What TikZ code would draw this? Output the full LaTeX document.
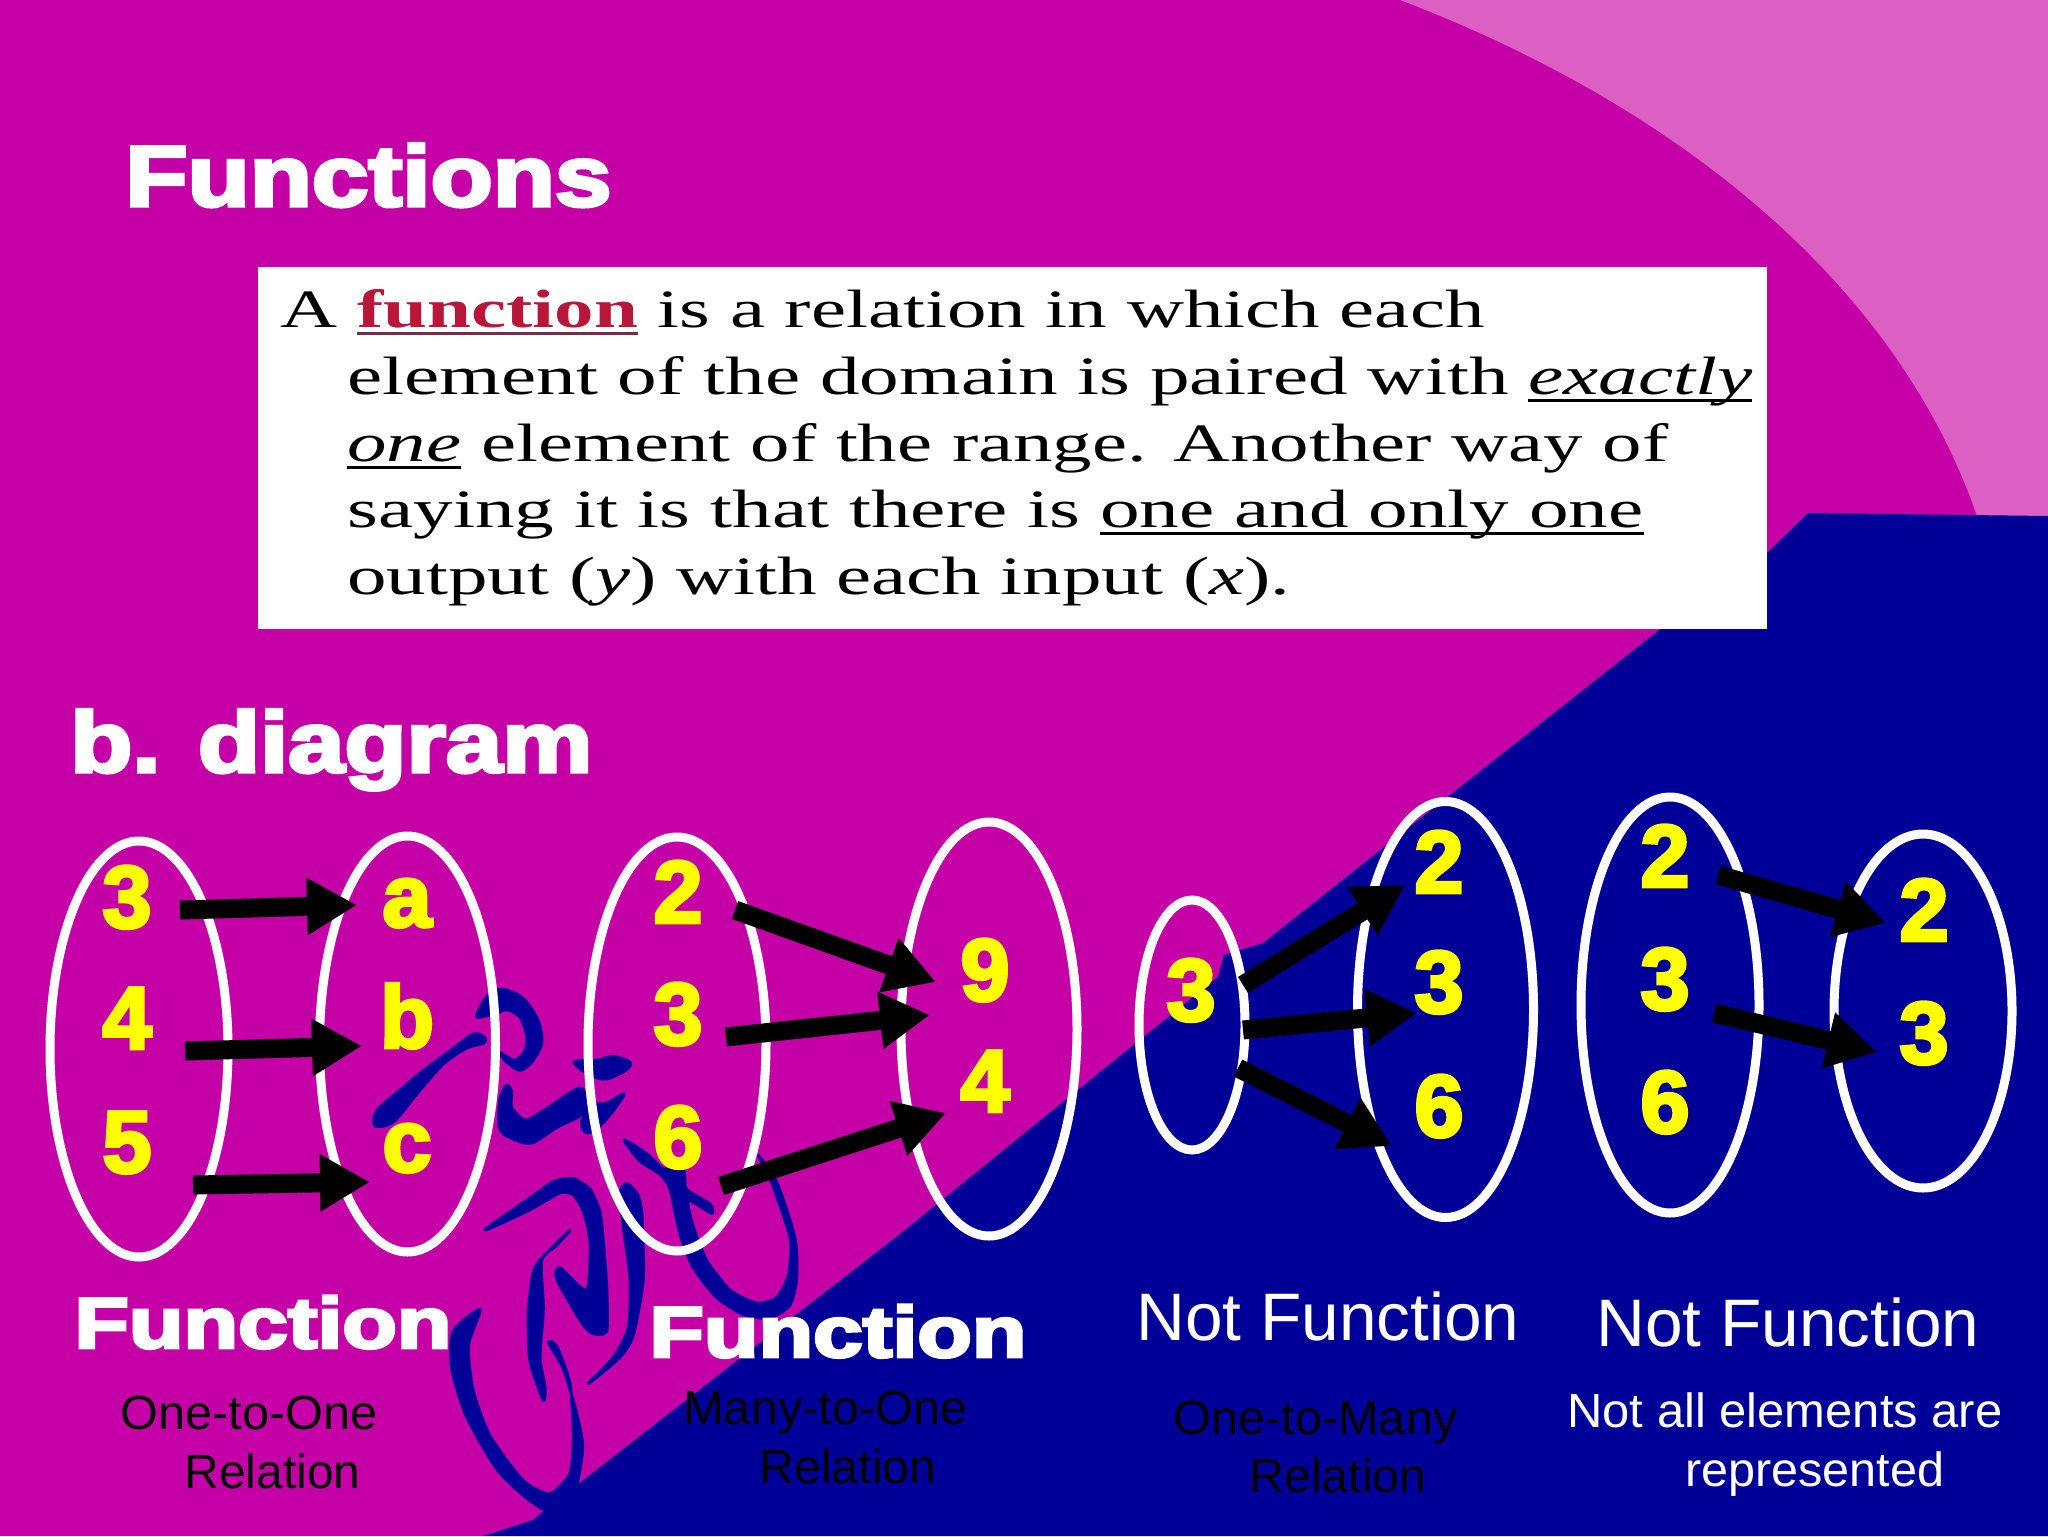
\documentclass[tikz,border=0pt]{standalone}
\usepackage{fontspec}
\usepackage{graphicx}
\usetikzlibrary{arrows.meta}
\setmainfont{Liberation Sans}
\newfontfamily\serifbox{Liberation Serif}
\newfontfamily\heavy[FakeBold=4]{Liberation Sans Bold}
\definecolor{bgmag}{HTML}{C400A6}
\definecolor{bgpale}{HTML}{DC5FC4}
\definecolor{bgblue}{HTML}{000098}
\definecolor{fnred}{HTML}{B8173A}
\definecolor{fnline}{HTML}{7A2A4A}
\definecolor{ylw}{HTML}{FFFF00}
\newcommand{\ulx}[2][black]{\setbox0\hbox{#2}\rlap{\textcolor{#1}{\rule[-4pt]{\wd0}{1.5pt}}}\box0\relax}
\newcommand{\fitw}[2]{\resizebox{#1pt}{\height}{#2}}
\tikzset{
  oval/.style={draw=white,line width=4.5pt},
  ltr/.style={text=ylw,font=\heavy\fontsize{44}{44}\selectfont,inner sep=0pt,text height=27.5pt,text depth=0pt},
  blk/.style={black,line width=9.5pt,-{Triangle[length=25pt,width=27pt]}},
  title/.style={text=white,font=\heavy\fontsize{43}{43}\selectfont,anchor=base west,inner sep=0pt},
  head/.style={text=white,font=\fontsize{33.6}{34}\selectfont,anchor=base west,inner sep=0pt},
  sub/.style={text=black,font=\fontsize{24}{24}\selectfont,anchor=base west,inner sep=0pt},
  def/.style={text=black,font=\serifbox\fontsize{27}{27}\selectfont,anchor=base west,inner sep=0pt},
  ink/.style={fill=bgblue,draw=bgblue,line width=1.5pt,line join=round}
}
\begin{document}
\begin{tikzpicture}[x=0.5pt,y=-0.5pt]
\useasboundingbox (0,0) rectangle (2048,1536);
\fill[bgmag] (0,0) rectangle (2048,1536);
\fill[bgpale] (1400,0) .. controls (1650,95) and (1890,265) .. (1977,516) -- (2048,516) -- (2048,0) -- cycle;
\fill[bgblue] (1808,513) -- (2048,516) -- (2048,1536) -- (483,1536) -- (533,1520) -- (545,1510) -- (573,1488) -- (900,1234) -- (1100,1072) -- (1218,977) -- (1224,955) -- (1263,943) -- (1469,780) -- (1658,631) -- (1765,555) -- cycle;
% calligraphic figure
\begin{scope}[shift={(400,950)},xscale=0.3333,yscale=0.3737]
\fill[ink] plot[smooth cycle,tension=0.5] coordinates {(230,178) (265,120) (310,105) (370,130) (415,190) (425,250) (395,300) (360,322) (320,300) (300,275) (345,295) (375,270) (380,230) (360,180) (320,160) (285,170)};
\fill[ink] plot[smooth cycle,tension=0.5] coordinates {(255,235) (220,225) (150,270) (60,330) (0,375) (-70,430) (-75,470) (-20,460) (60,375) (130,305) (200,262) (250,250)};
\fill[ink] plot[smooth cycle,tension=0.5] coordinates {(320,362) (335,380) (335,420) (375,455) (430,430) (540,370) (560,430) (470,475) (400,515) (350,510) (300,480) (300,400)};
\fill[ink] plot[smooth cycle,tension=0.5] coordinates {(522,300) (590,295) (640,285) (690,300) (680,320) (620,345) (570,335)};
\fill[ink] plot[smooth cycle,tension=0.5] coordinates {(672,385) (620,410) (580,415) (545,460) (560,490) (600,470) (640,430)};
\fill[ink] plot[smooth cycle,tension=0.4] coordinates {(255,748) (380,670) (460,620) (520,612) (570,640) (600,700) (610,780) (620,900) (620,1020) (575,1025) (540,990) (470,880) (480,850) (560,910) (570,780) (550,700) (520,655) (480,650) (400,690) (320,725)};
\fill[ink] plot[smooth cycle,tension=0.4] coordinates {(510,750) (430,820) (400,860) (385,970) (390,1100) (430,1205) (435,1170) (420,1090) (430,960) (425,830) (470,790)};
\fill[ink] plot[smooth cycle,tension=0.4] coordinates {(660,650) (680,625) (710,650) (725,700) (730,880) (700,1030) (660,1090) (565,1160) (640,1090) (685,1010) (690,880) (670,740)};
\fill[ink] plot[smooth cycle,tension=0.4] coordinates {(240,962) (160,1020) (155,1120) (200,1250) (300,1400) (435,1498) (525,1440) (548,1330) (530,1240) (490,1120) (445,1050) (470,1060) (510,1160) (520,1300) (510,1400) (450,1455) (370,1420) (270,1300) (220,1180) (205,1060)};
\fill[ink] plot[smooth cycle,tension=0.4] coordinates {(672,508) (740,545) (790,585) (850,590) (860,640) (930,680) (935,705) (865,670) (880,740) (920,830) (990,910) (1070,945) (1130,930) (1165,870) (1170,770) (1110,610) (1075,550) (1130,620) (1185,770) (1190,880) (1170,950) (1110,985) (1030,975) (950,930) (880,850) (840,760) (810,640) (780,600) (720,565)};
\end{scope}
% titles
\node[title] (ttl) at (125,206) {\fitw{243}{Functions}};
\node[title] (bdg) at (70,772) {\fitw{261}{b. diagram}};
% definition box
\fill[white] (258,267) rectangle (1767,629);
\node[def] (l1) at (280,327) {\fitw{602}{A \ulx[fnline]{\textcolor{fnred}{\bfseries function}} is a relation in which each}};
\node[def] (l2) at (347,394) {\fitw{702.5}{element of the domain is paired with \ulx{\itshape exactly}}};
\node[def] (l3) at (347,461) {\fitw{660.5}{\ulx{\itshape one} element of the range. Another way of}};
\node[def] (l4) at (347,527) {\fitw{648}{saying it is that there is \ulx{one and only one}}};
\node[def] (l5) at (347,594) {\fitw{471.5}{output ({\itshape y}) with each input ({\itshape x}).}};
% ovals
\draw[oval] (139,1049) ellipse [x radius=89,y radius=208];
\draw[oval] (407.5,1044) ellipse [x radius=88,y radius=208];
\draw[oval] (677,1044) ellipse [x radius=89,y radius=207];
\draw[oval] (989,1029) ellipse [x radius=88,y radius=207];
\draw[oval] (1192,1025) ellipse [x radius=53,y radius=125];
\draw[oval] (1445.5,1009.5) ellipse [x radius=88,y radius=208];
\draw[oval] (1670,1005) ellipse [x radius=89,y radius=208];
\draw[oval] (1923,1011) ellipse [x radius=89,y radius=177];
% letters
\node[ltr] (a3) at (127,900) {3};
\node[ltr] (a4) at (127,1021) {4};
\node[ltr] (a5) at (127,1145) {5};
\node[ltr] (ba) at (407,899) {a};
\node[ltr] (bb) at (407,1020) {b};
\node[ltr] (bc) at (407,1144) {c};
\node[ltr] (c2) at (678,895) {2};
\node[ltr] (c3) at (678,1017) {3};
\node[ltr] (c6) at (678,1140) {6};
\node[ltr] (d9) at (985,973) {9};
\node[ltr] (d4) at (985,1084) {4};
\node[ltr] (e3) at (1191,993) {3};
\node[ltr] (f2) at (1439,865) {2};
\node[ltr] (f3) at (1439,985) {3};
\node[ltr] (f6) at (1439,1109) {6};
\node[ltr] (g2) at (1665,859) {2};
\node[ltr] (g3) at (1665,982) {3};
\node[ltr] (g6) at (1665,1105) {6};
\node[ltr] (h2) at (1924,913) {2};
\node[ltr] (h3) at (1924,1036) {3};
% arrows
\draw[blk] ([shift={(53,10)}]a3.center) -- ([shift={(-50,6)}]ba.center);
\draw[blk] ([shift={(58,30)}]a4.center) -- ([shift={(-45,26)}]bb.center);
\draw[blk] ([shift={(66,40)}]a5.center) -- ([shift={(-37,38)}]bc.center);
\draw[blk] ([shift={(57,15)}]c2.center) -- ([shift={(-49,9)}]d9.center);
\draw[blk] ([shift={(48,20)}]c3.center) -- ([shift={(-55,42)}]d9.center);
\draw[blk] ([shift={(43,46)}]c6.center) -- ([shift={(-39,29)}]d4.center);
\draw[blk] ([shift={(52,-8)}]e3.center) -- ([shift={(-34,20)}]f2.center);
\draw[blk] ([shift={(52,37)}]e3.center) -- ([shift={(-22,28)}]f3.center);
\draw[blk] ([shift={(47,75)}]e3.center) -- ([shift={(-47,37)}]f6.center);
\draw[blk] ([shift={(53,16)}]g2.center) -- ([shift={(-38,10)}]h2.center);
\draw[blk] ([shift={(49,31)}]g3.center) -- ([shift={(-47,16)}]h3.center);
% captions
\node[title] (c1) at (74,1348) {\fitw{188.5}{\fontsize{36}{36}\selectfont Function}};
\node[title] (c2b) at (649,1357) {\fitw{188.5}{\fontsize{36}{36}\selectfont Function}};
\node[head] (c3b) at (1136,1340) {\fitw{191.5}{Not Function}};
\node[head] (c4) at (1596,1346) {\fitw{191.5}{Not Function}};
\node[sub] (s1) at (120,1429) {\fitw{128.5}{One-to-One}};
\node[sub] (s2) at (184,1488) {\fitw{88}{Relation}};
\node[sub] (s3) at (683,1424) {\fitw{142}{Many-to-One}};
\node[sub] (s4) at (759,1483) {\fitw{88.5}{Relation}};
\node[sub] (s5) at (1173,1434) {\fitw{142}{One-to-Many}};
\node[sub] (s6) at (1249,1492) {\fitw{88.5}{Relation}};
\node[sub,text=white] (s7) at (1567,1427) {\fitw{217.5}{Not all elements are}};
\node[sub,text=white] (s8) at (1685,1486) {\fitw{129.5}{represented}};
\end{tikzpicture}
\end{document}
